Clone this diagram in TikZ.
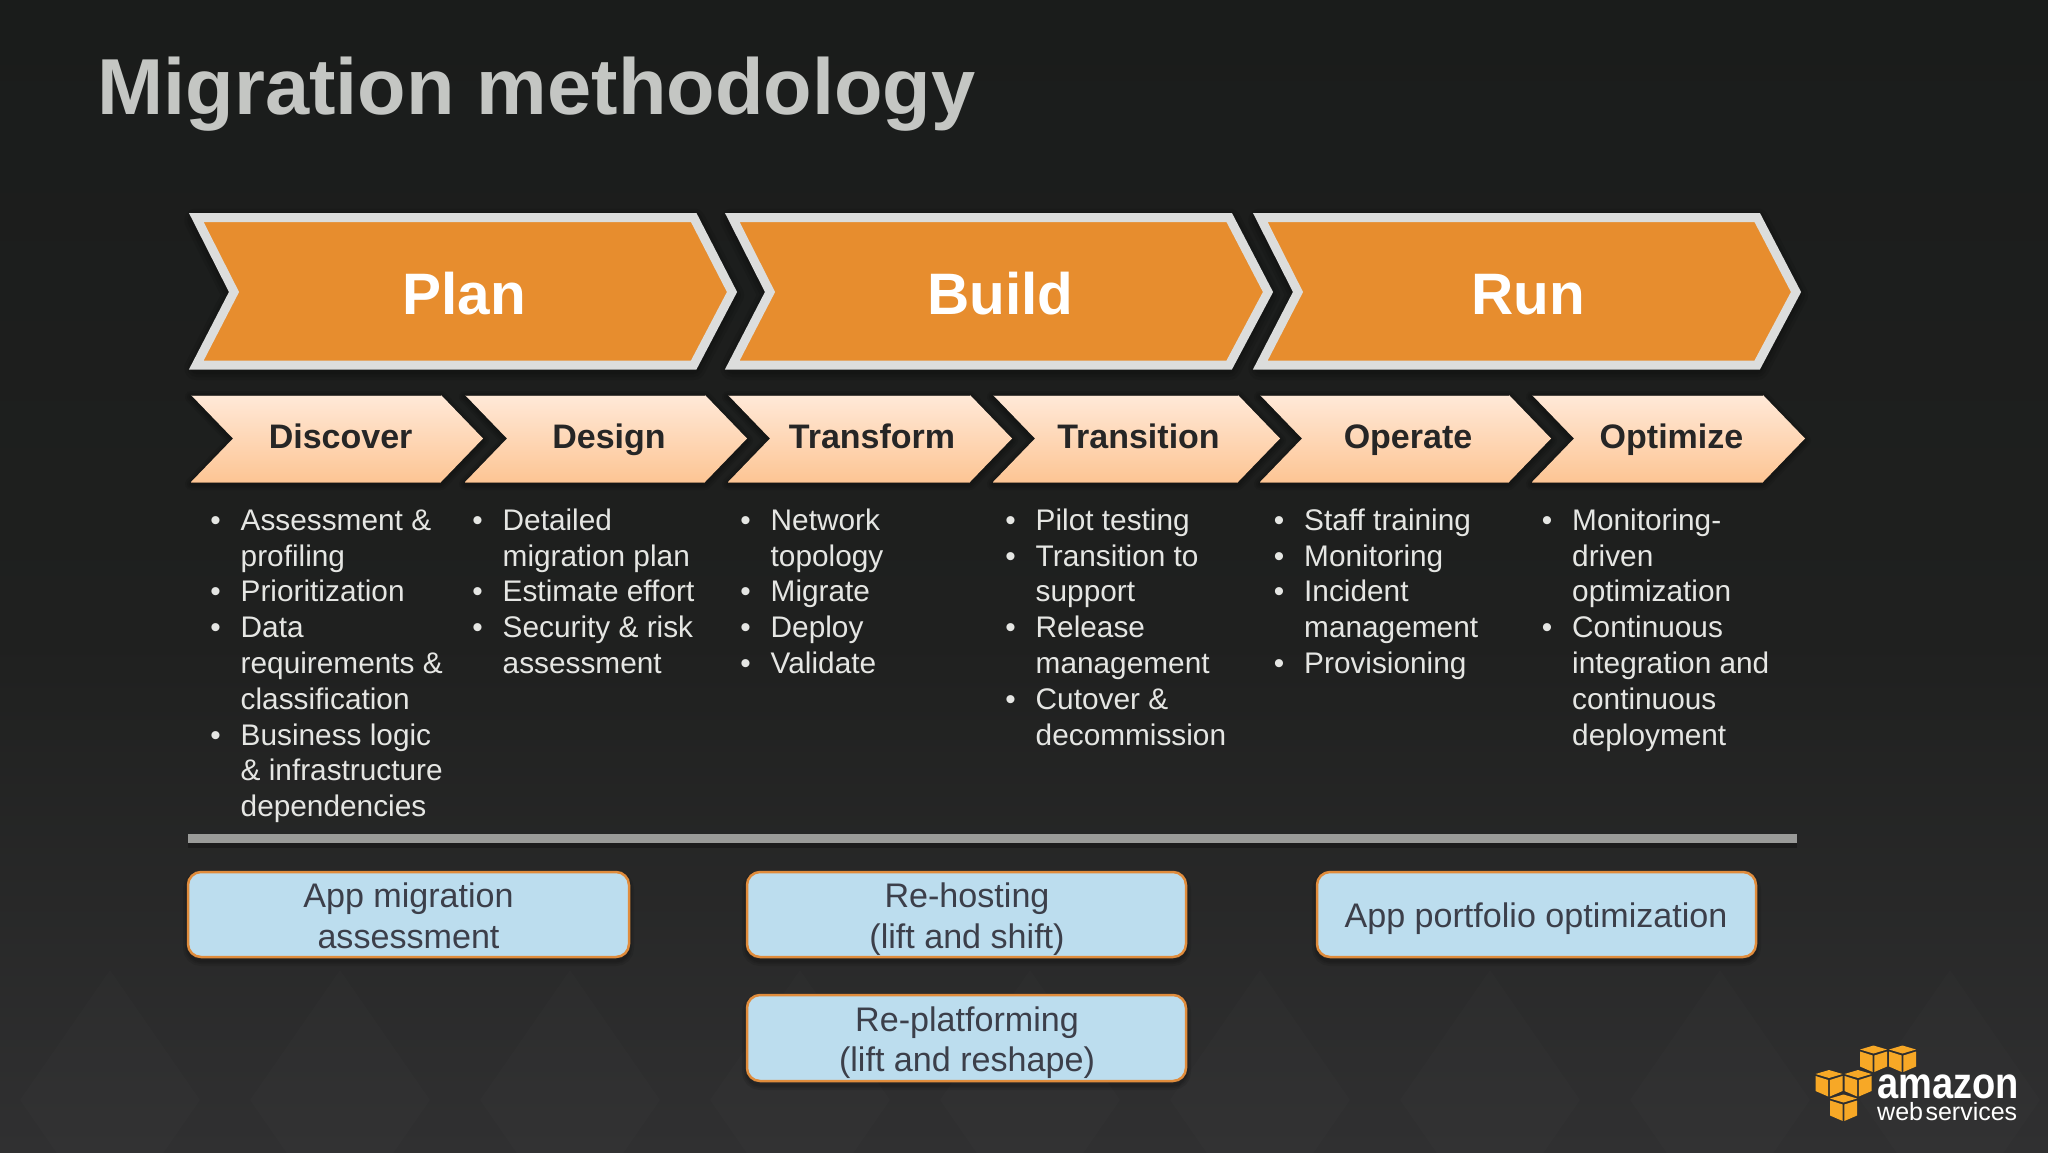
\documentclass[tikz,border=0pt]{standalone}
\usepackage{fontspec}
\usepackage{graphicx}
\setmainfont{Liberation Sans}
\definecolor{bgtop}{HTML}{1A1C1B}
\definecolor{bgmid}{HTML}{1F201F}
\definecolor{bgbot}{HTML}{303031}
\definecolor{titlegrey}{HTML}{C4C6C3}
\definecolor{rulegrey}{HTML}{9A9B99}
\definecolor{edge}{HTML}{DCDDDC}
\definecolor{orange1}{HTML}{E78D2E}
\definecolor{peachtop}{HTML}{FFE9D8}
\definecolor{peachbot}{HTML}{FDC594}
\definecolor{ink}{HTML}{262626}
\definecolor{bodytxt}{HTML}{E5E6E3}
\definecolor{boxfill}{HTML}{BCDDEE}
\definecolor{boxedge}{HTML}{E08C3C}
\definecolor{boxtxt}{HTML}{3C3F4A}
\definecolor{awsorange}{HTML}{F7A826}
\tikzset{
  phase/.style={draw=edge,fill=orange1,line width=9pt,line join=miter,miter limit=10},
  phaselabel/.style={anchor=base,inner sep=0pt,text=white,font=\fontsize{58.5}{60}\selectfont\bfseries},
  stagelabel/.style={anchor=base,inner sep=0pt,text=ink,font=\fontsize{34}{36}\selectfont\bfseries},
  bodylist/.style={anchor=north west,inner sep=0pt,align=left,text=bodytxt,font=\fontsize{29.8}{35.8}\selectfont},
  optionbox/.style={draw=boxedge,fill=boxfill,line width=2.5pt,rounded corners=13pt},
  optionlabel/.style={anchor=base,inner sep=0pt,text=boxtxt,font=\fontsize{34.1}{41}\selectfont,align=center},
  softshadow/.style={draw=black,opacity=.09,line join=round},
  cube/.style={fill=awsorange,draw=none}
}
\newcommand{\phasechev}[3]{%
  \foreach \w in {24,18,12}{\draw[softshadow,line width=\w pt,fill=none,yshift=-3pt]
    (#1+7.3,217.5)--(#2-2.8,217.5)--(#3-5,292)--(#2-2.8,365)--(#1+7.3,365)--(#1+45,292)--cycle;}
  \draw[phase] (#1+7.3,217.5)--(#2-2.8,217.5)--(#3-5,292)--(#2-2.8,365)--(#1+7.3,365)--(#1+45,292)--cycle;}
\newcommand{\stagechev}[2]{%
  \foreach \w in {12,8,4}{\draw[softshadow,line width=\w pt,yshift=-2pt]
    (#1,395)--(#2,395)--(#2+42,438.5)--(#2,482)--(#1,482)--(#1+42,438.5)--cycle;}
  \shade[top color=peachtop,bottom color=peachbot]
    (#1,395)--(#2,395)--(#2+42,438.5)--(#2,482)--(#1,482)--(#1+42,438.5)--cycle;
  \draw[black!70!peachtop,line width=1pt] (#1,395)--(#2,395);
  \draw[black!35!peachbot,line width=1pt] (#1,482)--(#2,482);}
\newcommand{\optbox}[4]{%
  \foreach \w in {10,6,3}{\draw[softshadow,line width=\w pt,rounded corners=13pt,yshift=-4pt]
    (#1,#3) rectangle (#2,#4);}
  \draw[optionbox] (#1,#3) rectangle (#2,#4);}
\newcommand{\awscube}[2]{%
  \fill[cube] (#1,#2)--(#1+13.5,#2+4)--(#1,#2+8)--(#1-13.5,#2+4)--cycle;
  \fill[cube] (#1-13.5,#2+6)--(#1-.8,#2+10)--(#1-.8,#2+26.5)--(#1-13.5,#2+21)--cycle;
  \fill[cube] (#1+13.5,#2+6)--(#1+.8,#2+10)--(#1+.8,#2+26.5)--(#1+13.5,#2+21)--cycle;}
\newcommand{\bul}{\llap{•\hspace{19.8pt}}}
\newcommand{\fl}{\rule{0pt}{30pt}}
\begin{document}
\begin{tikzpicture}[x=1pt,y=-1pt]
\useasboundingbox (0,0) rectangle (2048,1152);
\shade[top color=bgtop,bottom color=bgmid] (0,0) rectangle (2048,640);
\shade[top color=bgmid,bottom color=bgbot] (0,640) rectangle (2048,1152);
% faint backdrop facets
\foreach \cx/\cy in {110/1080,340/1080,570/1080,800/1080,1030/1080,1260/1080,1490/1080,1720/1080,1950/1080}{
  \fill[white,opacity=.012] (\cx,\cy-110)--(\cx+90,\cy+20)--(\cx,\cy+150)--(\cx-90,\cy+20)--cycle;}
% title
\node[anchor=base west,inner sep=0pt,text=titlegrey,font=\fontsize{79.4}{84}\selectfont\bfseries] (title) at (97.5,114) {Migration methodology};
% phases
\phasechev{189}{696.5}{737}
\phasechev{725}{1232}{1273}
\phasechev{1253}{1760}{1801}
\node[phaselabel] (plan) at (464,314) {Plan};
\node[phaselabel] (build) at (1000.5,314) {Build};
\node[phaselabel] (run) at (1528.5,314) {Run};
% stages
\stagechev{191}{441}
\stagechev{465}{705}
\stagechev{728}{970}
\stagechev{993}{1238}
\stagechev{1260}{1509}
\stagechev{1532}{1763}
\node[stagelabel] (discover) at (340.6,448) {Discover};
\node[stagelabel] (design) at (609,448) {Design};
\node[stagelabel] (transform) at (872,448) {Transform};
\node[stagelabel] (transition) at (1138.5,448) {Transition};
\node[stagelabel] (operate) at (1408,448) {Operate};
\node[stagelabel] (optimize) at (1671.5,448) {Optimize};
% lists
\node[bodylist] (l1) at (240.5,500) {\fl\bul Assessment \&\\profiling\\\bul Prioritization\\\bul Data\\requirements \&\\classification\\\bul Business logic\\\& infrastructure\\dependencies};
\node[bodylist] (l2) at (502.5,500) {\fl\bul Detailed\\migration plan\\\bul Estimate effort\\\bul Security \& risk\\assessment};
\node[bodylist] (l3) at (770.5,500) {\fl\bul Network\\topology\\\bul Migrate\\\bul Deploy\\\bul Validate};
\node[bodylist] (l4) at (1035.5,500) {\fl\bul Pilot testing\\\bul Transition to\\support\\\bul Release\\management\\\bul Cutover \&\\decommission};
\node[bodylist] (l5) at (1304,500) {\fl\bul Staff training\\\bul Monitoring\\\bul Incident\\management\\\bul Provisioning};
\node[bodylist] (l6) at (1572,500) {\fl\bul Monitoring-\\driven\\optimization\\\bul Continuous\\integration and\\continuous\\deployment};
% rule
\fill[black,opacity=.25] (188,842) rectangle (1797,848);
\fill[rulegrey] (188,834) rectangle (1797,843);
% option boxes
\optbox{188}{629}{872}{957}
\optbox{747}{1186}{872}{957}
\optbox{747}{1186}{995}{1081}
\optbox{1317}{1756}{872}{957}
\node[optionlabel] (a1) at (408.5,907) {App migration};
\node[optionlabel] (a2) at (408.5,948) {assessment};
\node[optionlabel] (b1) at (967,907) {Re-hosting};
\node[optionlabel] (b2) at (967,948) {(lift and shift)};
\node[optionlabel] (c1) at (967,1031) {Re-platforming};
\node[optionlabel] (c2) at (967,1071) {(lift and reshape)};
\node[optionlabel] (d1) at (1536,927) {App portfolio optimization};
% logo
\awscube{1873.5}{1045.5}
\awscube{1902.5}{1045.5}
\awscube{1829}{1070}
\awscube{1858}{1070}
\awscube{1843.5}{1094.5}
\node[anchor=base west,inner sep=0pt,text=white,font=\fontsize{44}{46}\selectfont\bfseries] (amazon) at (1877,1098) {\scalebox{.865}[1]{amazon}};
\node[anchor=base west,inner sep=0pt,text=white,font=\fontsize{25}{27}\selectfont] (aws) at (1877,1120.5) {web\hspace{2.5pt}services};
\end{tikzpicture}
\end{document}
